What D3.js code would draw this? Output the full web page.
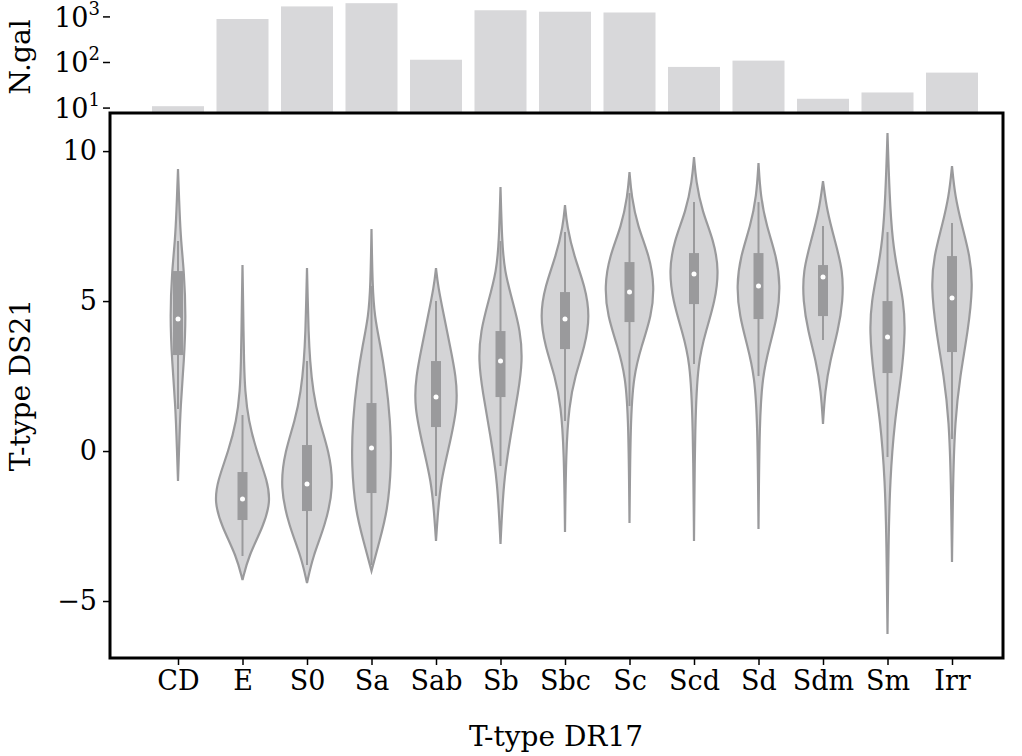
<!DOCTYPE html><html><head><meta charset="utf-8">
<script src="https://cdn.jsdelivr.net/npm/d3@7"></script>
<style>body{margin:0;background:#fff}text{font-family:"DejaVu Serif",serif;fill:#000}</style></head><body>
<svg id="c" width="1022" height="756"></svg>
<script>
const categories=["CD","E","S0","Sa","Sab","Sb","Sbc","Sc","Scd","Sd","Sdm","Sm","Irr"];
const nGal=[11,900,1700,2000,115,1400,1300,1250,80,110,16,22,60];
const q1=[3.2,-2.3,-2,-1.4,0.8,1.8,3.4,4.3,4.9,4.4,4.5,2.6,3.3];
const med=[4.4,-1.6,-1.1,0.1,1.8,3,4.4,5.3,5.9,5.5,5.8,3.8,5.1];
const q3=[6,-0.7,0.2,1.6,3,4,5.3,6.3,6.6,6.6,6.2,5,6.5];
const whiskLo=[1.4,-3.5,-3.8,-3.8,-1.5,-0.5,1,1.5,2.9,2.5,3.7,-0.2,0.4];
const whiskHi=[7,1.2,3,5.5,5,7,7.3,8.6,8.3,8.3,7.5,7.3,7.6];
const density=[
 [[-1,0],[0,1],[1.5,2.5],[3,6],[4.5,8],[6,6],[7,3],[8,1.5],[9.4,0]],
 [[-4.3,0],[-3.5,6],[-2.5,21],[-1.7,28],[-1,25],[0,14],[1,6],[2,2.5],[3,1.5],[4,1],[5,0.6],[6.2,0]],
 [[-4.4,0],[-3.5,6],[-2.5,18],[-1.2,27],[0,22],[1,12],[2,6],[3,3],[4,1.5],[5,0.8],[6.1,0]],
 [[-4,0],[-3,8],[-2,16],[-0.5,20],[1,19],[2.5,14],[3.5,9],[4.5,3],[5.5,1],[7.4,0]],
 [[-3,0],[-2,2],[-1,5],[0,12],[1.5,22],[2.5,20],[3.5,14],[4.5,8],[5.5,2],[6.1,0]],
 [[-3.1,0],[-1,3],[0.5,10],[2,18],[3,22],[4,20],[5,12],[6,4],[7,1.5],[8.8,0]],
 [[-2.7,0],[0,1],[1.5,4],[2.5,10],[3.5,20],[4.5,25],[5.5,20],[6.5,9],[7.5,2],[8.2,0]],
 [[-2.4,0],[1,1],[2.5,4],[3.5,12],[4.5,22],[5.5,25],[6.5,20],[7.5,8],[8.5,2],[9.3,0]],
 [[-3,0],[1,1],[3,4],[4,12],[5,21],[6,25],[7,20],[8,8],[9,2],[9.8,0]],
 [[-2.6,0],[1,1],[2.5,4],[3.5,11],[4.5,19],[5.5,22],[6.5,18],[7.5,8],[8.5,2],[9.6,0]],
 [[0.9,0],[2,2],[3,7],[4,15],[5,20],[6,20],[7,12],[8,4],[9,0]],
 [[-6.1,0],[-3,1],[-1,2.5],[1,7],[2.5,14],[4,18],[5,16],[6,10],[7,5],[8.5,2],[10.6,0]],
 [[-3.7,0],[-1,1],[1,3],[2.5,8],[4,16],[5.5,21],[6.5,18],[7.5,10],[8.5,3],[9.5,0]]
];
const yTicks=[-5,0,5,10];
const svg=d3.select("#c");
const L=110,R=1003,T=113,B=658;
const x=d3.scalePoint().domain(categories).range([178,952]);
const y=d3.scaleLinear().domain([-6.9,11.27]).range([B,T]);
const yb=d3.scaleLog().domain([7.8,2350]).range([T,0]);
const w=d3.scaleLinear().domain([0,30]).range([0,30]);
svg.append("g").selectAll("rect").data(categories).join("rect")
 .attr("x",d=>x(d)-26).attr("width",52).attr("y",(d,i)=>yb(nGal[i])).attr("height",(d,i)=>T-yb(nGal[i])).attr("fill","#d8d8da");
const gb=svg.append("g").attr("transform",`translate(${L},0)`);
[[10,1],[100,2],[1000,3]].forEach(([v,e])=>{
 gb.append("line").attr("x1",-7).attr("x2",0).attr("y1",yb(v)).attr("y2",yb(v)).attr("stroke","#000").attr("stroke-width",1.5);
 const t=gb.append("text").attr("x",-10).attr("y",yb(v)+10).attr("text-anchor","end").attr("font-size",27);
 t.append("tspan").text("10");t.append("tspan").attr("font-size",18).attr("dy",-12).text(e);
});
svg.append("text").attr("transform","translate(30,57) rotate(-90)").attr("text-anchor","middle").attr("font-size",28).text("N.gal");
const area=d3.area().curve(d3.curveBasis).y(d=>y(d[0]));
categories.forEach((c,i)=>{
 const cx=x(c);
 svg.append("path").datum(density[i]).attr("d",area.x0(d=>cx-w(d[1])).x1(d=>cx+w(d[1])))
  .attr("fill","#d4d4d6").attr("stroke","#9a9a9c").attr("stroke-width",2.2);
 svg.append("line").attr("x1",cx).attr("x2",cx).attr("y1",y(whiskLo[i])).attr("y2",y(whiskHi[i])).attr("stroke","#9a9a9c").attr("stroke-width",2);
 svg.append("rect").attr("x",cx-5).attr("width",10).attr("y",y(q3[i])).attr("height",y(q1[i])-y(q3[i])).attr("fill","#9a9a9c");
 svg.append("circle").attr("cx",cx).attr("cy",y(med[i])).attr("r",2.5).attr("fill","#fff");
});
svg.append("rect").attr("x",L).attr("y",T).attr("width",R-L).attr("height",B-T).attr("fill","none").attr("stroke","#000").attr("stroke-width",3);
const ga=svg.append("g").attr("transform",`translate(${L},0)`).call(d3.axisLeft(y).tickValues(yTicks).tickSize(7).tickFormat(d=>d<0?"\u2212"+(-d):d));
ga.select(".domain").remove();
ga.selectAll("text").attr("font-size",27).attr("font-family","DejaVu Serif").attr("dx",-3);
ga.selectAll("line").attr("stroke-width",1.5);
const gx=svg.append("g").attr("transform",`translate(0,${B})`).call(d3.axisBottom(x).tickSize(7));
gx.select(".domain").remove();
gx.selectAll("text").attr("font-size",27).attr("font-family","DejaVu Serif").attr("dy",22);
gx.selectAll("line").attr("stroke-width",1.5);
svg.append("text").attr("x",556).attr("y",746).attr("text-anchor","middle").attr("font-size",28).text("T-type DR17");
svg.append("text").attr("transform","translate(30,385) rotate(-90)").attr("text-anchor","middle").attr("font-size",28).text("T-type DS21");
</script></body></html>
